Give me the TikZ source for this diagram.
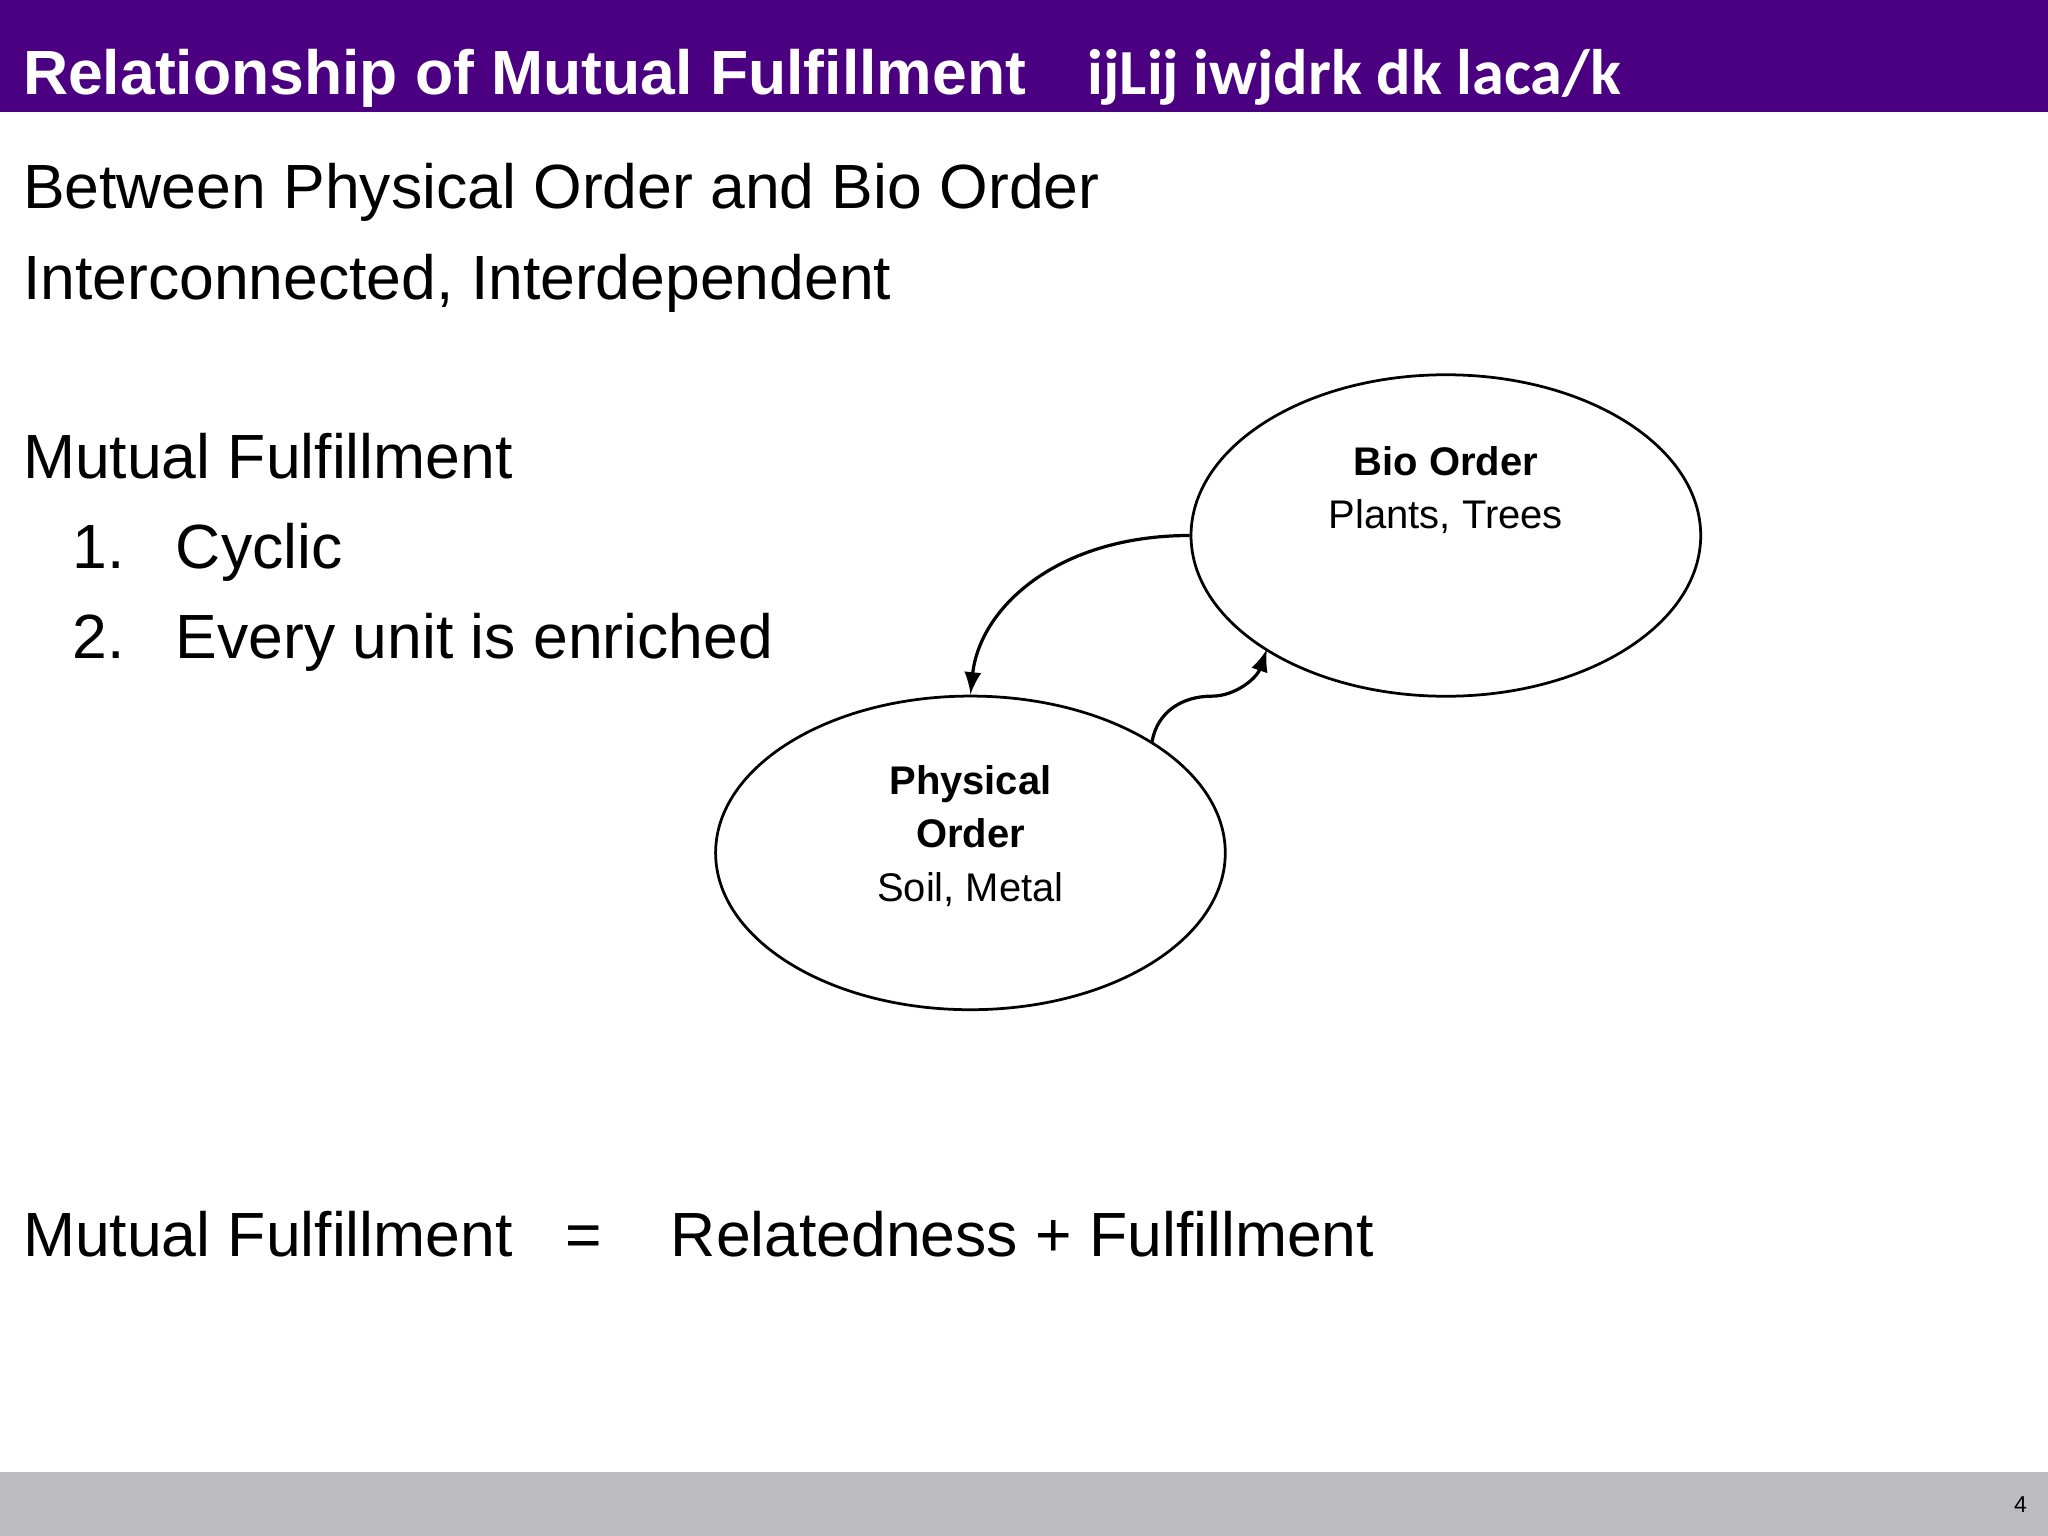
\documentclass[tikz,border=0pt]{standalone}
\usepackage{fontspec}
\usetikzlibrary{shapes.geometric}
\setmainfont{Liberation Sans}
\newfontfamily\krt{Carlito}
\begin{document}
\begin{tikzpicture}[x=0.01cm,y=-0.01cm,
  big/.style={anchor=base west,font=\fontsize{13.6pt}{16pt}\selectfont,inner sep=0},
  ell/.style={draw,ellipse,inner sep=0,line width=0.6pt},
  lbl/.style={font=\fontsize{8.7pt}{11.6pt}\selectfont,align=center},
  arr/.style={-latex,line width=0.7pt}]
\useasboundingbox (0,0) rectangle (1568,1176);
\fill[fill={rgb,255:red,75;green,0;blue,130}] (0,0) rectangle (1568,86);
\fill[fill={rgb,255:red,189;green,188;blue,192}] (0,1127) rectangle (1568,1176);
\node[anchor=base west,inner sep=0,text=white,font=\fontsize{13.6pt}{16pt}\selectfont\bfseries] (t1) at (17,72) {Relationship of Mutual Fulfillment};
\node[anchor=base west,inner sep=0,text=white,font=\krt\fontsize{14pt}{18pt}\selectfont\bfseries] (t2) at (832,72) {ijLij iwjdrk dk laca/k};
\node[anchor=base,inner sep=0,font=\fontsize{5pt}{6pt}\selectfont] (pg) at (1547,1158) {4};
\node[big] (l1) at (17,160) {Between Physical Order and Bio Order};
\node[big] (l2) at (17,229) {Interconnected, Interdependent};
\node[big] (l3) at (17,366) {Mutual Fulfillment};
\node[big] (n1) at (55,435) {1.};
\node[big] (c1) at (134,435) {Cyclic};
\node[big] (n2) at (55,504) {2.};
\node[big] (c2) at (134,504) {Every unit is enriched};
\node[big] (b1) at (17,962) {Mutual Fulfillment};
\node[big] (b2) at (432,962) {=};
\node[big] (b3) at (513,962) {Relatedness + Fulfillment};
\node[ell,minimum width=3.9cm,minimum height=2.46cm] (bio) at (1107,410) {};
\node[ell,minimum width=3.9cm,minimum height=2.4cm] (phys) at (743,653) {};
\node[lbl] (biot) at (1107,375) {\textbf{Bio Order}\\Plants, Trees};
\node[lbl] (pht) at (743,640) {\textbf{Physical}\\\textbf{Order}\\Soil, Metal};
\coordinate (s2) at (882,568);
\coordinate (e2) at (970,497);
\draw[arr] (bio.west) .. controls (810,410) and (750,465) .. (phys.north);
\draw[arr] (s2) .. controls (886,545) and (905,533) .. (928,533) .. controls (945,533) and (962,520) .. (e2);
\end{tikzpicture}
\end{document}
